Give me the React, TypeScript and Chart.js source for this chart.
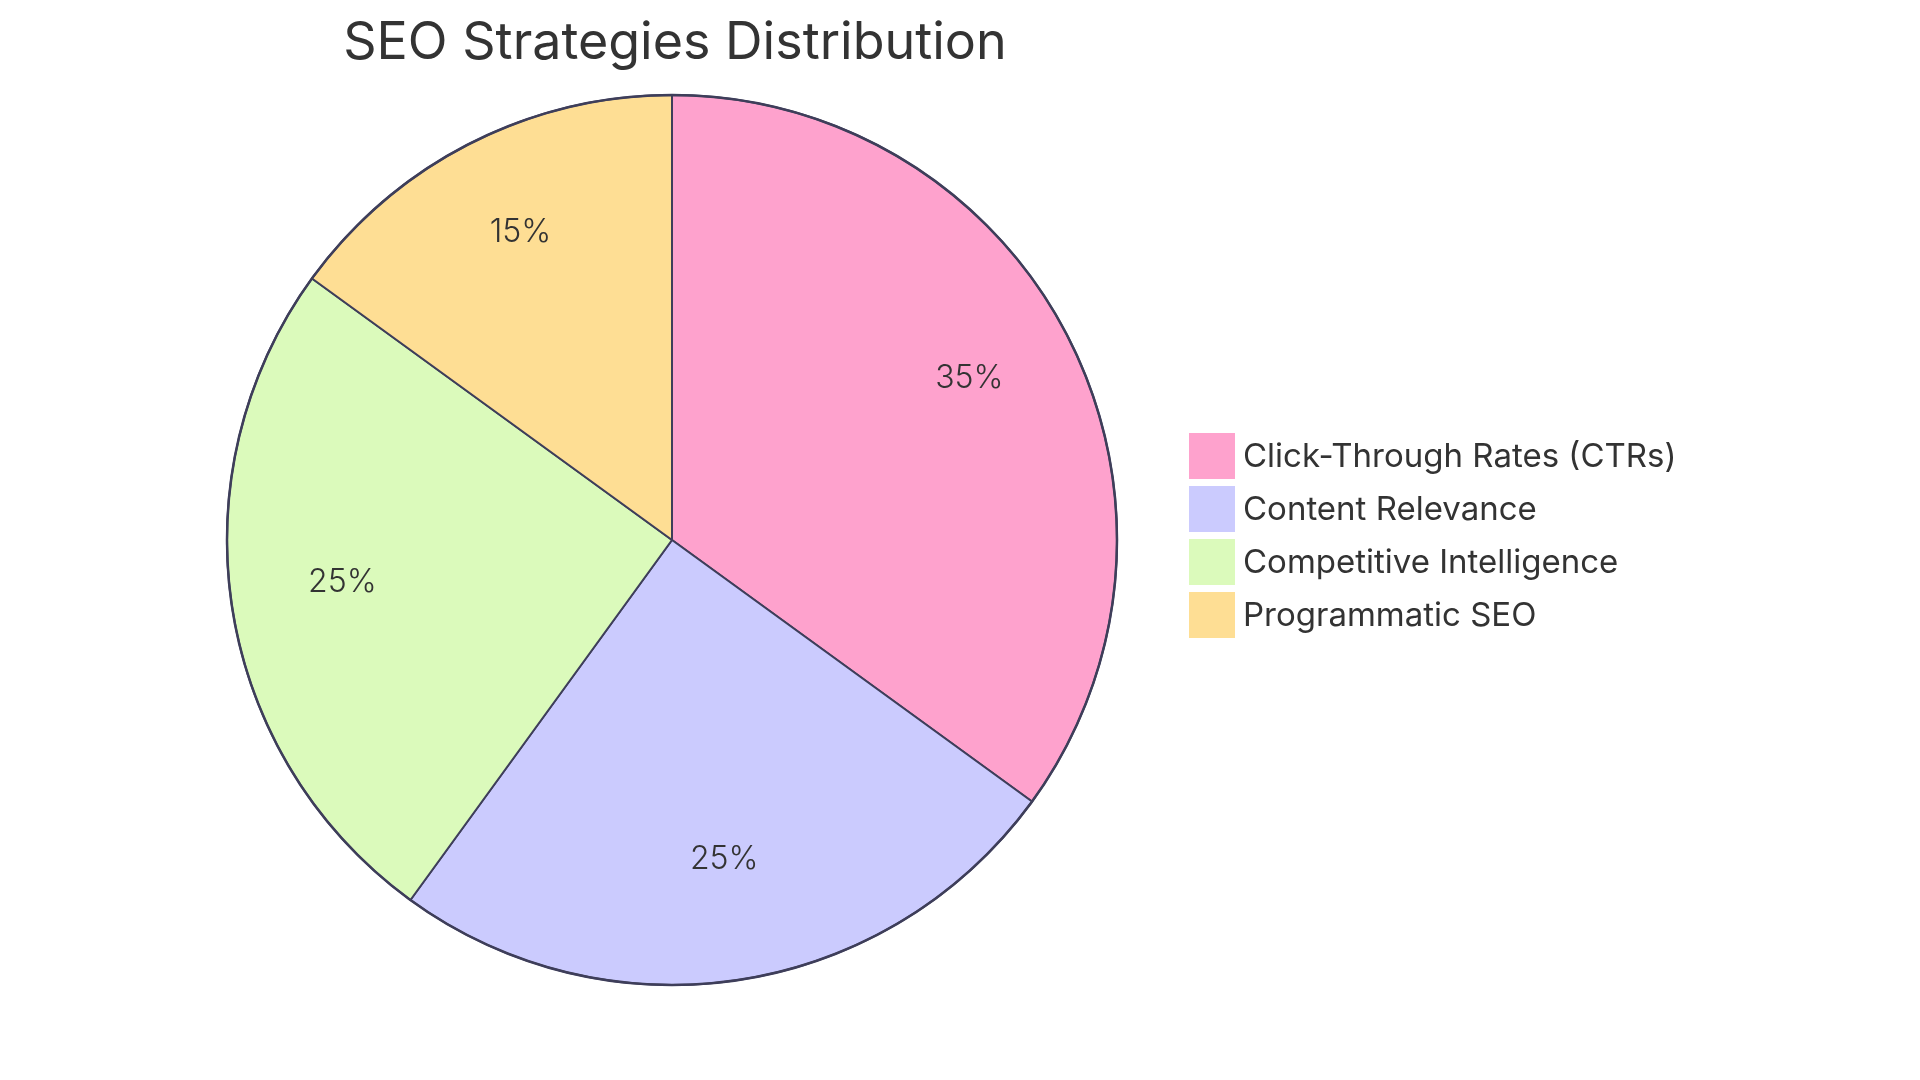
import React, { useEffect, useRef } from 'react';
import { Chart, registerables } from 'chart.js';

Chart.register(...registerables);

const TITLE = 'SEO Strategies Distribution';
const labels = ['Click-Through Rates (CTRs)', 'Content Relevance', 'Competitive Intelligence', 'Programmatic SEO'];
const values = [35, 25, 25, 15];
const colors = ['#FEA2CD', '#CBCBFE', '#DBFABB', '#FEDE94'];

const FONT = 'Inter, "Open Sans", sans-serif';
const TEXT = '#333333';
const STROKE = '#3E3E5A';

// draws title, % labels, outer ring and legend on the canvas
const decorPlugin = {
    id: 'decor',
    afterDatasetsDraw(chart: Chart) {
        const ctx = chart.ctx;
        const meta = chart.getDatasetMeta(0);
        const arcs = meta.data as any[];
        if (!arcs.length) return;
        const { x: cx, y: cy, outerRadius } = arcs[0].getProps(['x', 'y', 'outerRadius'], true);
        const total = values.reduce((a, b) => a + b, 0);

        ctx.save();
        // outer ring
        ctx.beginPath();
        ctx.arc(cx, cy, outerRadius, 0, Math.PI * 2);
        ctx.lineWidth = 2.5;
        ctx.strokeStyle = STROKE;
        ctx.stroke();

        // percentage labels
        ctx.fillStyle = TEXT;
        ctx.font = `300 32px ${FONT}`;
        ctx.textAlign = 'center';
        ctx.textBaseline = 'middle';
        arcs.forEach((arc, i) => {
            const { startAngle, endAngle } = arc.getProps(['startAngle', 'endAngle'], true);
            const mid = (startAngle + endAngle) / 2;
            const r = outerRadius * 0.75;
            const pct = Math.round((values[i] / total) * 100);
            ctx.fillText(`${pct}%`, cx + Math.cos(mid) * r, cy + Math.sin(mid) * r - 10);
        });

        // title
        ctx.font = `400 52px ${FONT}`;
        ctx.fillText(TITLE, cx + 3, 43);

        // legend
        const lx = 1189;
        const ly = 433;
        const box = 46;
        const step = 53;
        ctx.textAlign = 'left';
        ctx.font = `400 33px ${FONT}`;
        labels.forEach((label, i) => {
            const y = ly + i * step;
            ctx.fillStyle = colors[i];
            ctx.fillRect(lx, y, box, box);
            ctx.fillStyle = TEXT;
            ctx.fillText(label, lx + box + 8, y + box / 2 + 1);
        });
        ctx.restore();
    },
};

export default function App() {
    const canvasRef = useRef<HTMLCanvasElement>(null);
    const chartRef = useRef<Chart | null>(null);

    useEffect(() => {
        if (!canvasRef.current) return;
        if (chartRef.current) chartRef.current.destroy();

        chartRef.current = new Chart(canvasRef.current, {
            type: 'pie',
            data: {
                labels,
                datasets: [{
                    data: values,
                    backgroundColor: colors,
                    borderColor: STROKE,
                    borderWidth: 2,
                }],
            },
            options: {
                animation: false,
                responsive: false,
                maintainAspectRatio: false,
                layout: { padding: { left: 226, right: 802, top: 94, bottom: 94 } },
                plugins: {
                    legend: { display: false },
                    title: { display: false },
                    tooltip: { enabled: false },
                },
            },
            plugins: [decorPlugin],
        });

        return () => {
            if (chartRef.current) chartRef.current.destroy();
            chartRef.current = null;
        };
    }, []);

    return (
        <div style={{ position: 'fixed', left: 0, top: 0, width: 1920, height: 1080, background: '#ffffff' }}>
            <canvas ref={canvasRef} width={1920} height={1080} style={{ width: 1920, height: 1080 }} />
        </div>
    );
}
